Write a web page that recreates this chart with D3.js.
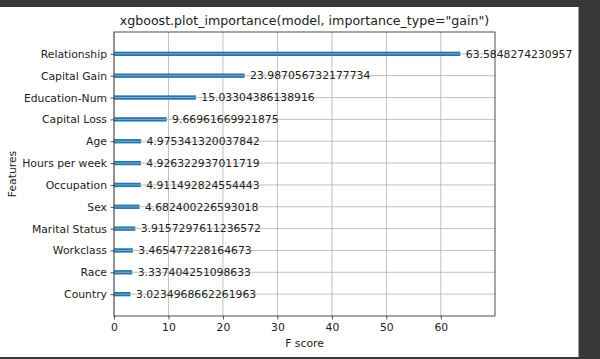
<!DOCTYPE html>
<html><head><meta charset="utf-8">
<script src="https://cdn.jsdelivr.net/npm/d3@7"></script>
<style>
html,body{margin:0;padding:0;background:#383838;}
svg{display:block;}
text{font-family:"DejaVu Sans",sans-serif;fill:#222;}
</style></head>
<body>
<svg id="c" width="600" height="359"></svg>
<script>
const features = ["Relationship","Capital Gain","Education-Num","Capital Loss","Age","Hours per week","Occupation","Sex","Marital Status","Workclass","Race","Country"];
const gains = [63.5848274230957,23.987056732177734,15.03304386138916,9.66961669921875,4.975341320037842,4.926322937011719,4.911492824554443,4.682400226593018,3.9157297611236572,3.465477228164673,3.337404251098633,3.0234968662261963];
const xTicks = [0,10,20,30,40,50,60];
const titleText = 'xgboost.plot_importance(model, importance_type="gain")';
const fs = "10.8px";

const svg = d3.select("#c");
svg.append("rect").attr("x",0).attr("y",7).attr("width",578).attr("height",350).attr("fill","#fff");
svg.append("line").attr("x1",578.5).attr("x2",578.5).attr("y1",7).attr("y2",357).attr("stroke","#9a9a9a").attr("stroke-width",1);

const L=114, R=495, T=32, B=316;
const n = features.length;
const x = d3.scaleLinear().domain([0, d3.max(gains)*1.1]).range([L,R]);
const y = d3.scaleLinear().domain([-1, n]).range([B,T]);
const idx = (i)=> n-1-i;

svg.append("g").selectAll("line").data(xTicks).join("line")
  .attr("x1",d=>x(d)).attr("x2",d=>x(d)).attr("y1",T).attr("y2",B)
  .attr("stroke","#b0b0b0").attr("stroke-width",0.8);

const bh = y(0)-y(0.2);
svg.append("g").selectAll("rect").data(gains).join("rect")
  .attr("x",x(0)).attr("y",(d,i)=>y(idx(i))-bh/2)
  .attr("width",d=>x(d)-x(0)).attr("height",bh).attr("fill","#1f77b4");

svg.append("g").selectAll("line").data(features).join("line")
  .attr("x1",L).attr("x2",R).attr("y1",(d,i)=>y(idx(i))).attr("y2",(d,i)=>y(idx(i)))
  .attr("stroke","#b0b0b0").attr("stroke-width",0.8);

svg.append("g").selectAll("text").data(gains).join("text")
  .attr("x",d=>x(d+1)).attr("y",(d,i)=>y(idx(i))).attr("dy","0.35em")
  .attr("font-size",fs).text(d=>String(d));

const xAxis = d3.axisBottom(x).tickValues(xTicks).tickSize(3.5).tickPadding(3.5).tickFormat(d3.format("d"));
const gx = svg.append("g").attr("transform",`translate(0,${B})`).call(xAxis);
gx.select(".domain").remove();
gx.selectAll("line").attr("stroke","#222").attr("stroke-width",0.8);
gx.selectAll("text").attr("font-size",fs).attr("font-family","DejaVu Sans").attr("fill","#222");

const yAxis = d3.axisLeft(y).tickValues(d3.range(n)).tickSize(3.5).tickPadding(3.5).tickFormat(i=>features[n-1-i]);
const gy = svg.append("g").attr("transform",`translate(${L},0)`).call(yAxis);
gy.select(".domain").remove();
gy.selectAll("line").attr("stroke","#222").attr("stroke-width",0.8);
gy.selectAll("text").attr("font-size",fs).attr("font-family","DejaVu Sans").attr("fill","#222");

svg.append("rect").attr("x",L).attr("y",T).attr("width",R-L).attr("height",B-T)
  .attr("fill","none").attr("stroke","#222").attr("stroke-width",0.8);

svg.append("text").attr("x",(L+R)/2).attr("y",25).attr("text-anchor","middle").attr("font-size","12.6px").text(titleText);
svg.append("text").attr("x",(L+R)/2).attr("y",347).attr("text-anchor","middle").attr("font-size",fs).text("F score");
svg.append("text").attr("transform",`translate(16,${(T+B)/2}) rotate(-90)`).attr("text-anchor","middle").attr("font-size",fs).text("Features");
</script>
</body></html>
